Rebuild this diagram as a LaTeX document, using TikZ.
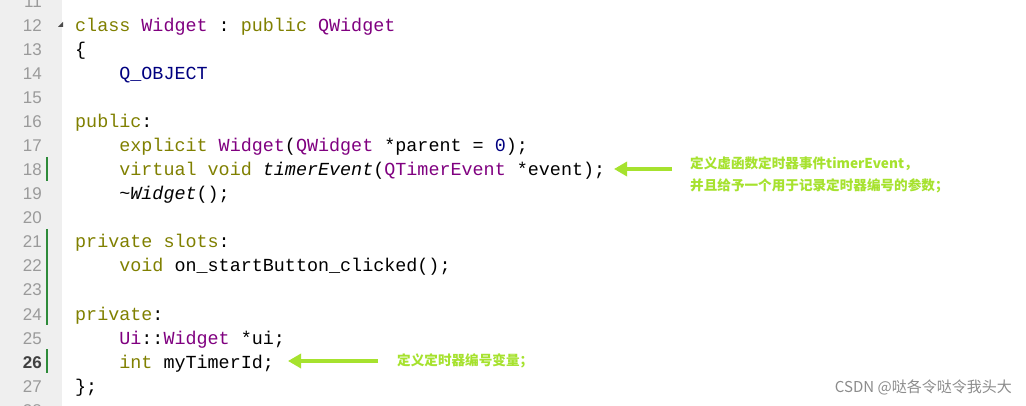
\documentclass[tikz,border=0pt]{standalone}
\usepackage{fontspec}
\setmonofont{Liberation Mono}
\setmainfont{Liberation Sans}
\newfontfamily\cjk{Noto Sans CJK SC}
\usetikzlibrary{arrows.meta}
\definecolor{kw}{HTML}{808000}
\definecolor{cls}{HTML}{800080}
\definecolor{macro}{HTML}{000080}
\definecolor{lnum}{HTML}{9A9A9A}
\definecolor{gutter}{HTML}{EFEFEF}
\definecolor{bar}{HTML}{2E8B3A}
\definecolor{note}{HTML}{A6E22E}
\newcommand{\K}[1]{\textcolor{kw}{#1}}
\newcommand{\C}[1]{\textcolor{cls}{#1}}
\tikzset{
  code/.style={anchor=base west, inner sep=0pt, font=\ttfamily\fontsize{18.4}{18}\selectfont},
  num/.style={anchor=base east, inner sep=0pt, text=lnum, font=\fontsize{17}{17}\selectfont},
  notetext/.style={anchor=west, inner sep=0pt, text=note, align=left, font=\cjk\bfseries\fontsize{13.6}{22}\selectfont},
  notearrow/.style={draw=note, line width=3.5pt, -{Triangle[length=13pt,width=14pt]}},
  change/.style={draw=bar, line width=2pt}
}
\begin{document}
\begin{tikzpicture}[x=1pt,y=-1pt]
\useasboundingbox (0,0) rectangle (1026,406);
\fill[white] (0,0) rectangle (1026,406);
\fill[gutter] (0,0) rectangle (62,406);
% line numbers
\foreach \n in {11,...,28}
  \node[num] (n\n) at (42,{1+24*(\n-11)+7}) {\ifnum\n=26 \textbf{\textcolor{black!75}{\n}}\else\n\fi};
\fill[black!70] (58,27) -- (63,27) -- (63,22) -- cycle;
% change bars
\draw[change] (47,157) -- (47,181);
\draw[change] (47,229) -- (47,325);
\draw[change] (47,349) -- (47,373);
% code
\node[code] (l12) at (75,32) {\K{class} \C{Widget} : \K{public} \C{QWidget}};
\node[code] (l13) at (75,56) {\{};
\node[code] (l14) at (75,80) {\phantom{xxxx}\textcolor{macro}{Q\_OBJECT}};
\node[code] (l16) at (75,128) {\K{public}:};
\node[code] (l17) at (75,152) {\phantom{xxxx}\K{explicit} \C{Widget}(\C{QWidget} *parent = \textcolor{macro}{0});};
\node[code] (l18) at (75,176) {\phantom{xxxx}\K{virtual} \K{void} \textit{timerEvent}(\C{QTimerEvent} *event);};
\node[code] (l19) at (75,200) {\phantom{xxxx}\textasciitilde\textit{Widget}();};
\node[code] (l21) at (75,248) {\K{private} \K{slots}:};
\node[code] (l22) at (75,272) {\phantom{xxxx}\K{void} on\_startButton\_clicked();};
\node[code] (l24) at (75,320) {\K{private}:};
\node[code] (l25) at (75,344) {\phantom{xxxx}\C{Ui}::\C{Widget} *ui;};
\node[code] (l26) at (75,368) {\phantom{xxxx}\K{int} myTimerId;};
\node[code] (l27) at (75,392) {\};};
% notes
\node[notetext] (note1) at (690,175) {定义虚函数定时器事件timerEvent，\\并且给予一个用于记录定时器编号的参数；};
\node[notetext] (note2) at (397,361) {定义定时器编号变量；};
\coordinate (tip1) at (614,169);
\coordinate (tip2) at (288,361);
\draw[notearrow] (672,169) -- (tip1);
\draw[notearrow] (note2.west) ++(-19,0) -- (tip2);
% watermark
\node[anchor=east, inner sep=0pt, text=black!45, font=\cjk\fontsize{15}{15}\selectfont] (mark) at (1012,387) {CSDN @哒各令哒令我头大};
\end{tikzpicture}
\end{document}
